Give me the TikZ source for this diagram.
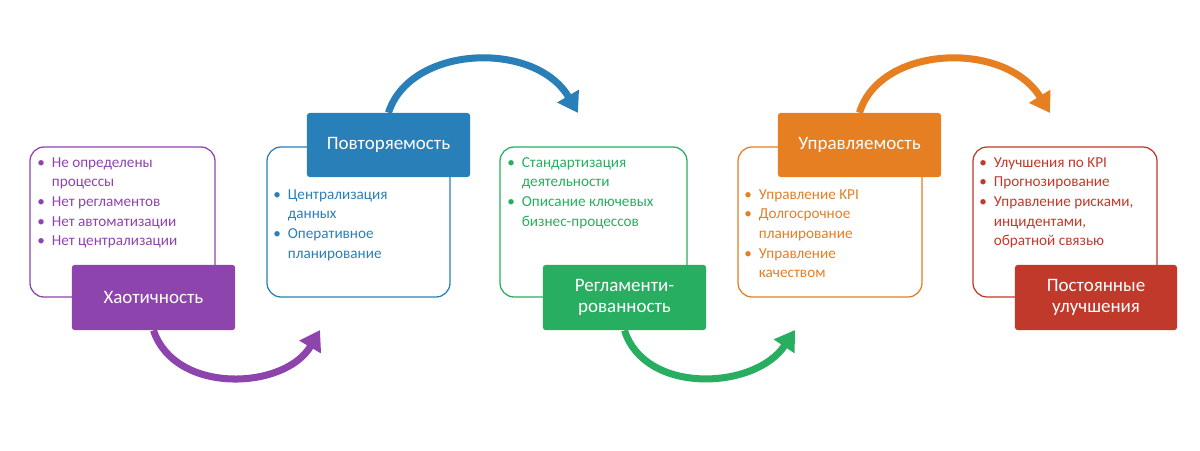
\documentclass[tikz,border=0pt]{standalone}
\usepackage{fontspec}
\setmainfont{Carlito}
\usetikzlibrary{arrows.meta}
\definecolor{cPurple}{RGB}{142,68,173}
\definecolor{cBlue}{RGB}{41,128,185}
\definecolor{cGreen}{RGB}{39,174,96}
\definecolor{cOrange}{RGB}{230,126,34}
\definecolor{cRed}{RGB}{192,57,43}
\newcommand{\bitem}[1]{\textbullet & #1\\}
\newcommand{\bcont}[1]{& #1\\}
\begin{document}
\begin{tikzpicture}[x=0.025cm, y=-0.025cm,
    frame/.style={draw=#1, line width=0.9pt, rounded corners=10pt},
    stage/.style={fill=#1, rounded corners=2pt, text=white, font=\fontsize{13.5}{15}\selectfont, align=center},
    list/.style={anchor=north west, text=#1, inner sep=0pt, font=\fontsize{10.8}{14}\selectfont},
    flow/.style={line width=5pt, draw=#1, -{Triangle[length=14pt, width=17pt]}}
]
\useasboundingbox (0,0) rectangle (1200,450);

% Frames
\draw[frame=cPurple] (30,147) rectangle (215,297);
\draw[frame=cBlue] (267,147) rectangle (450,297);
\draw[frame=cGreen] (500,147) rectangle (687,297);
\draw[frame=cOrange] (738,147) rectangle (922,297);
\draw[frame=cRed] (973,147) rectangle (1157,297);

% Lists
\node[list=cPurple] (l1) at (37,153) {\begin{tabular}{@{}l@{\hspace{5pt}}l@{}}
\bitem{Не определены}\bcont{процессы}\bitem{Нет регламентов}\bitem{Нет автоматизации}\bitem{Нет централизации}\end{tabular}};
\node[list=cBlue] (l2) at (273,185) {\begin{tabular}{@{}l@{\hspace{5pt}}l@{}}
\bitem{Централизация}\bcont{данных}\bitem{Оперативное}\bcont{планирование}\end{tabular}};
\node[list=cGreen] (l3) at (507,153) {\begin{tabular}{@{}l@{\hspace{5pt}}l@{}}
\bitem{Стандартизация}\bcont{деятельности}\bitem{Описание ключевых}\bcont{бизнес-процессов}\end{tabular}};
\node[list=cOrange] (l4) at (744,185) {\begin{tabular}{@{}l@{\hspace{5pt}}l@{}}
\bitem{Управление KPI}\bitem{Долгосрочное}\bcont{планирование}\bitem{Управление}\bcont{качеством}\end{tabular}};
\node[list=cRed] (l5) at (979,153) {\begin{tabular}{@{}l@{\hspace{5pt}}l@{}}
\bitem{Улучшения по KPI}\bitem{Прогнозирование}\bitem{Управление рисками,}\bcont{инцидентами,}\bcont{обратной связью}\end{tabular}};

% Stage labels
\node[stage=cPurple, minimum width=4.08cm, minimum height=1.63cm] (s1) at (153.5,297.5) {Хаотичность};
\node[stage=cBlue, minimum width=4.08cm, minimum height=1.6cm] (s2) at (388.5,145) {Повторяемость};
\node[stage=cGreen, minimum width=4.08cm, minimum height=1.63cm] (s3) at (624.5,297.5) {Регламенти-\\рованность};
\node[stage=cOrange, minimum width=4.08cm, minimum height=1.6cm] (s4) at (859.5,145) {Управляемость};
\node[stage=cRed, minimum width=4.05cm, minimum height=1.63cm] (s5) at (1096,297.5) {Постоянные\\улучшения};

% Flow arrows
\draw[flow=cPurple] (s1.south) ++(0,0) .. controls (175,395) and (285,390) .. (320,330);
\draw[flow=cBlue] (s2.north) .. controls (410,45) and (535,40) .. (578,113);
\draw[flow=cGreen] (s3.south) .. controls (645,395) and (755,390) .. (795,330);
\draw[flow=cOrange] (s4.north) .. controls (880,45) and (1005,40) .. (1050,113);
\end{tikzpicture}
\end{document}
